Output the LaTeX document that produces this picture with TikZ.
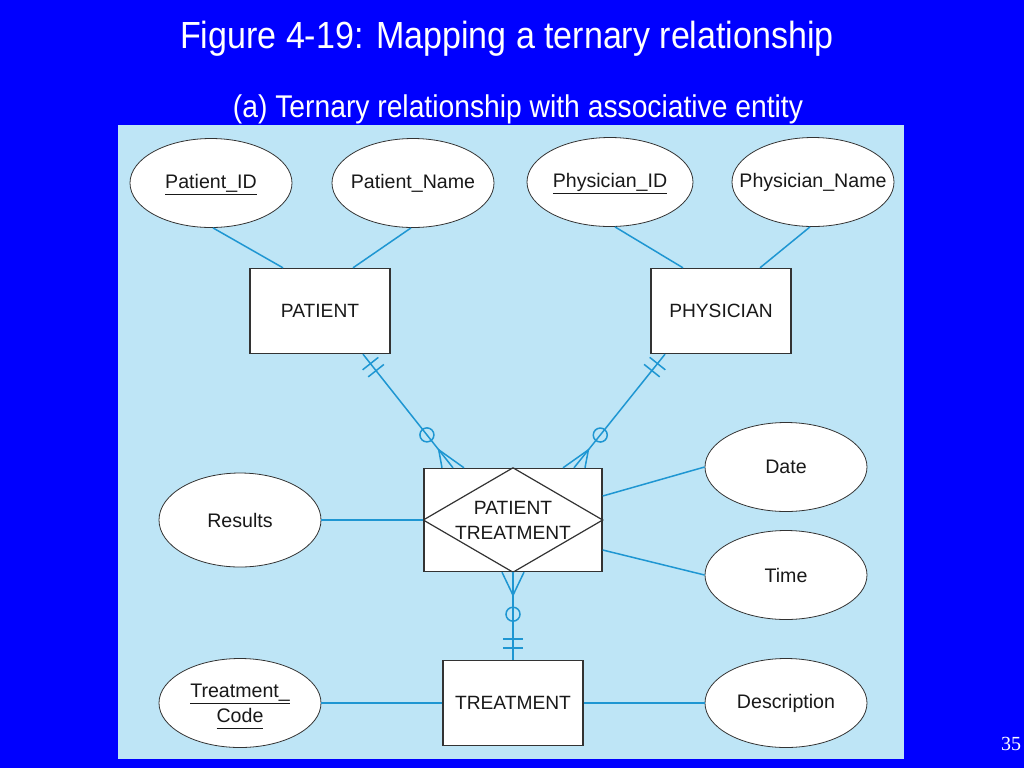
\documentclass[tikz,border=0pt]{standalone}
\usepackage{fontspec}
\setmainfont{Liberation Sans}
\newfontfamily\titlefont[FakeStretch=0.9]{Liberation Sans}
\newfontfamily\pagefont{Liberation Serif}
\usetikzlibrary{shapes.geometric, calc}
\definecolor{slideblue}{RGB}{0,0,255}
\definecolor{panelblue}{RGB}{190,229,246}
\definecolor{linkblue}{RGB}{30,150,210}

% key attribute: underline a little below the underscore, without moving the text
\newsavebox{\keybox}
\newcommand{\keyattr}[1]{\sbox{\keybox}{#1}\smash{\rlap{\rule[-3.4pt]{\wd\keybox}{0.45pt}}}\usebox{\keybox}}

% one side (#1) with two bars, many side (#2) with circle and crow's foot
\newcommand{\crowlink}[2]{%
  \draw[link] (#1) -- (#2);
  \draw[link] ($(#1)!6pt!(#2)!5pt!90:(#2)$) -- ($(#1)!6pt!(#2)!5pt!-90:(#2)$);
  \draw[link] ($(#1)!10.5pt!(#2)!5pt!90:(#2)$) -- ($(#1)!10.5pt!(#2)!5pt!-90:(#2)$);
  \draw[link] ($(#2)!21pt!(#1)$) circle[radius=3.5pt];
  \draw[link] ([xshift=-5.5pt]#2) -- ($(#2)!11.5pt!(#1)$) -- ([xshift=5.5pt]#2);
}

\begin{document}
\begin{tikzpicture}[
    x=0.5pt, y=-0.5pt,
    attr/.style={ellipse, draw=black!80, fill=white, minimum width=81pt, minimum height=44.5pt, inner xsep=-10pt, inner ysep=0pt, font=\fontsize{9.8}{12.5}\selectfont, text=black!90},
    entity/.style={rectangle, draw=black!80, fill=white, line width=0.7pt, minimum width=70pt, minimum height=42.5pt, align=center, font=\fontsize{9.6}{12.5}\selectfont, text=black!90},
    link/.style={draw=linkblue, line width=0.75pt},
    heading/.style={text=white, anchor=base, inner sep=0pt}
]
% Slide and panel
\fill[slideblue] (0,0) rectangle (1024,768);
\fill[panelblue] (118,125) rectangle (904,759);

\node[heading, font=\titlefont\fontsize{18.9}{22}\selectfont] (title) at (507,48) {Figure 4-19: Mapping a ternary relationship};
\node[heading, font=\titlefont\fontsize{15.7}{19}\selectfont] (subtitle) at (518,117) {(a) Ternary relationship with associative entity};
\node[heading, font=\pagefont\fontsize{10}{12}\selectfont] (pagenum) at (1011,750) {35};

% Entities
\node[entity] (patient) at (320,311) {PATIENT};
\node[entity] (physician) at (721,311) {PHYSICIAN};
\node[entity, minimum width=89pt, minimum height=51.5pt] (pt) at (513,520) {PATIENT\\TREATMENT};
\draw[black!80, line width=0.6pt] (pt.west) -- (pt.north) -- (pt.east) -- (pt.south) -- cycle;
\node[entity] (treatment) at (513,703) {TREATMENT};

% Attributes
\node[attr] (pid) at (211,183) {\keyattr{Patient\_ID}};
\node[attr] (pname) at (413,183) {Patient\_Name};
\node[attr, minimum width=83pt] (phid) at (610,182) {\keyattr{Physician\_ID}};
\node[attr] (phname) at (813,182) {Physician\_Name};
\node[attr, minimum height=47pt] (results) at (240,520) {Results};
\node[attr] (date) at (786,467) {Date};
\node[attr] (time) at (786,575) {Time};
\node[attr, align=center] (tcode) at (240,703) {\keyattr{Treatment\_}\\\keyattr{Code}};
\node[attr] (desc) at (786,703) {Description};

% Attribute lines
\draw[link] ([xshift=1pt]pid.south) -- ([xshift=-18.5pt]patient.north);
\draw[link] ([xshift=-1pt]pname.south) -- ([xshift=16.5pt]patient.north);
\draw[link] ([xshift=2.5pt]phid.south) -- ([xshift=-19pt]physician.north);
\draw[link] ([xshift=-1.5pt]phname.south) -- ([xshift=19.5pt]physician.north);
\draw[link] (results.east) -- (pt.west);
\draw[link] ([yshift=12pt]pt.east) -- (date.west);
\draw[link] ([yshift=-15pt]pt.east) -- (time.west);
\draw[link] (tcode.east) -- (treatment.west);
\draw[link] (treatment.east) -- (desc.west);

% Relationships
\coordinate (pat1) at ([xshift=21.5pt]patient.south);
\coordinate (pat2) at ([xshift=-30pt]pt.north);
\crowlink{pat1}{pat2}
\coordinate (phy1) at ([xshift=-28pt]physician.south);
\coordinate (phy2) at ([xshift=30.5pt]pt.north);
\crowlink{phy1}{phy2}
\crowlink{treatment.north}{pt.south}
\end{tikzpicture}
\end{document}
